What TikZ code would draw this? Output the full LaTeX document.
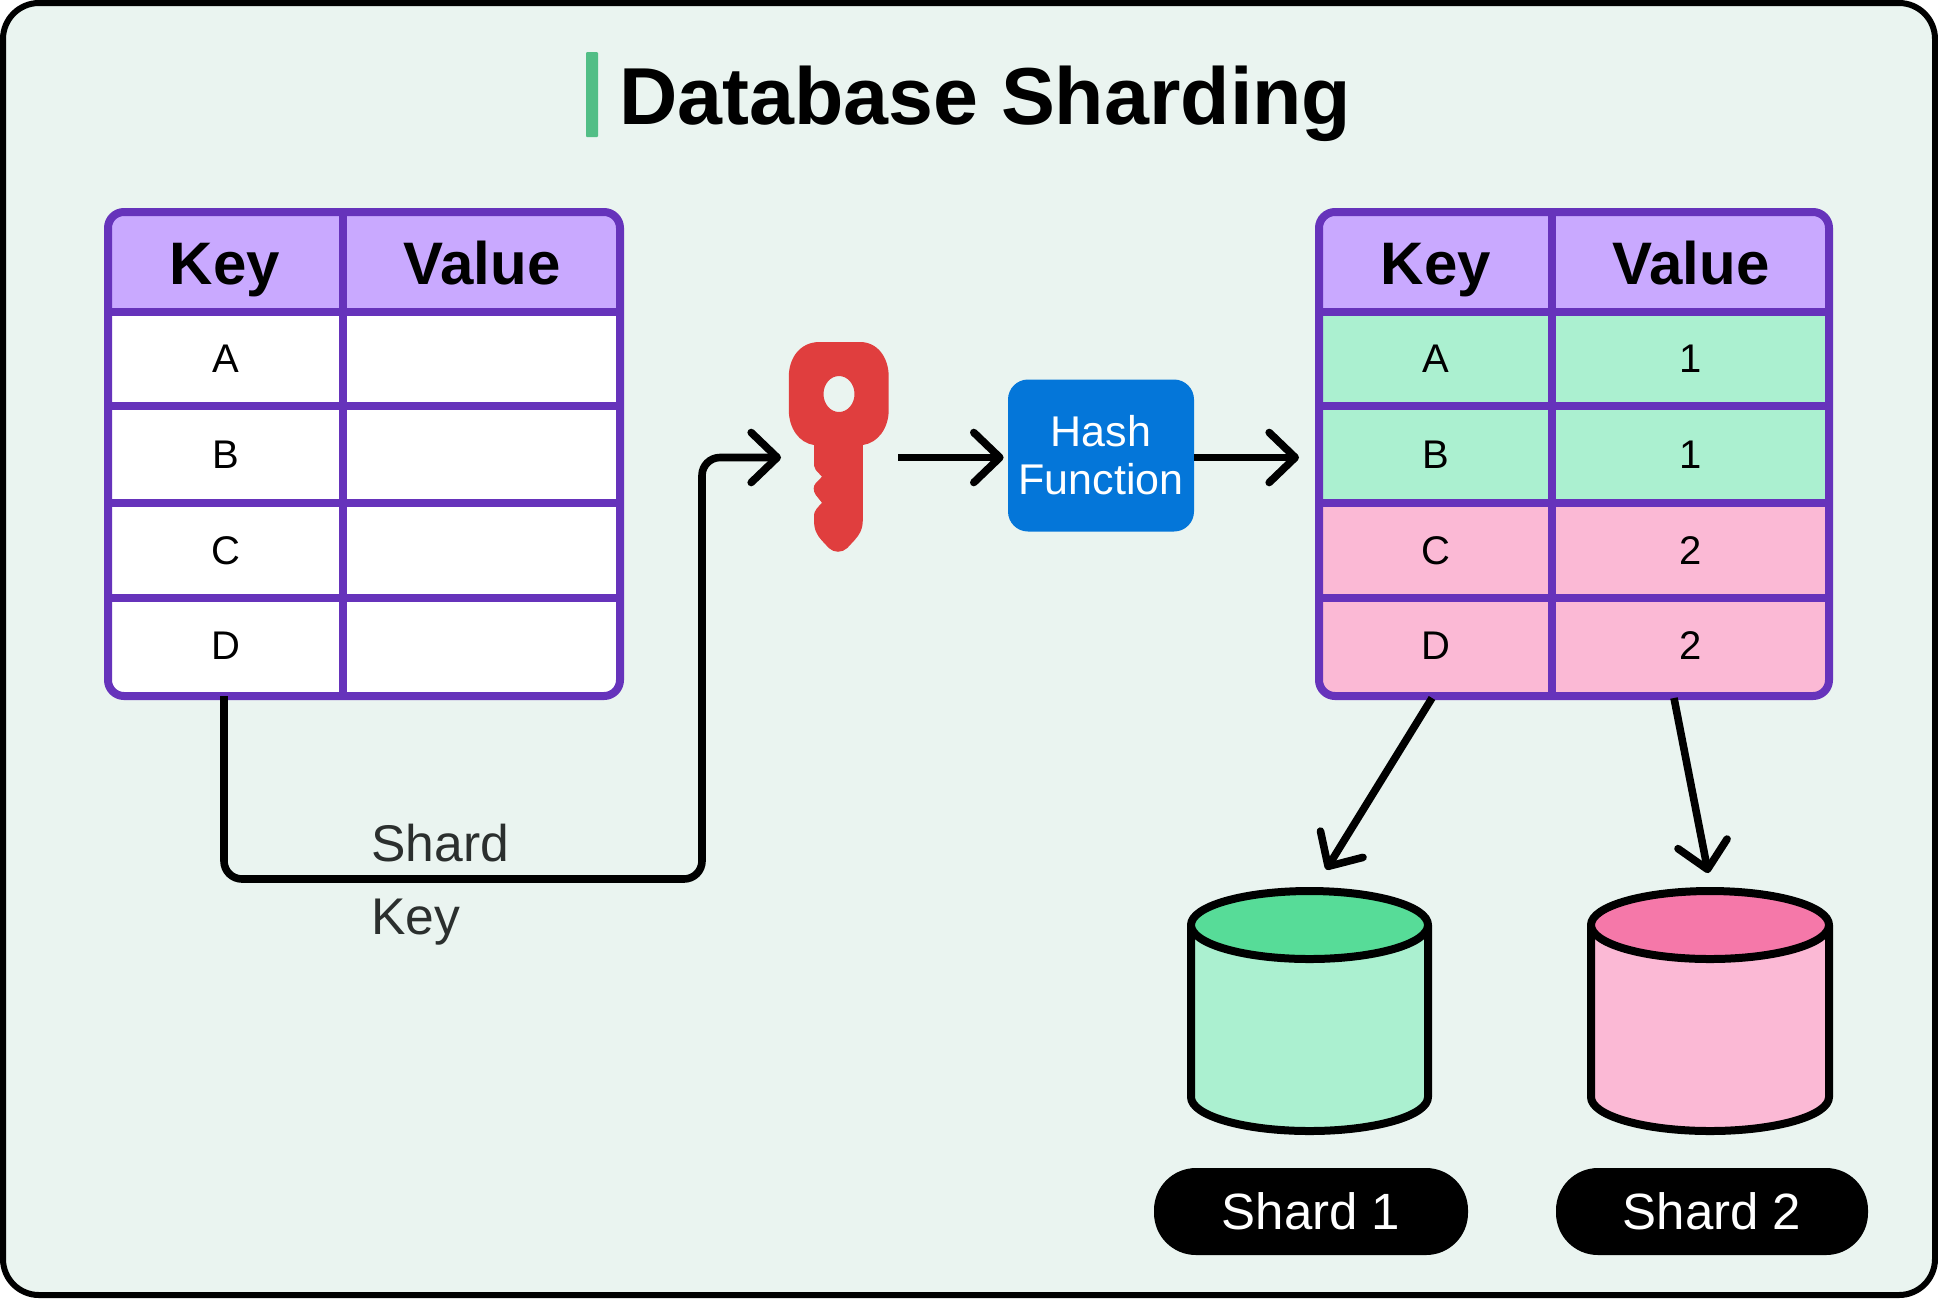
\documentclass[tikz,border=0pt]{standalone}
\usepackage{fontspec}
\setmainfont{Liberation Sans}
\usetikzlibrary{arrows.meta,calc}
\definecolor{bgc}{HTML}{EAF4F0}
\definecolor{purp}{HTML}{6633BB}
\definecolor{headc}{HTML}{C9A9FF}
\definecolor{greenl}{HTML}{ABF0D0}
\definecolor{greend}{HTML}{57DC98}
\definecolor{pinkl}{HTML}{FBB9D5}
\definecolor{pinkd}{HTML}{F578A9}
\definecolor{barc}{HTML}{52BE86}
\definecolor{keyred}{HTML}{E03E3E}
\definecolor{hashc}{HTML}{0476D9}
\definecolor{labelc}{HTML}{2B2F2E}
\tikzset{
  head/.style={anchor=base,font=\fontsize{30}{36}\selectfont\bfseries,text=black,inner sep=0pt},
  cell/.style={anchor=base,font=\fontsize{20}{24}\selectfont,text=black,inner sep=0pt},
  grid/.style={purp,line width=4pt},
  conn/.style={black,line width=3.8pt,shorten >=2pt,-{Straight Barb[round,length=13pt,width=25pt,line width=3.8pt]}},
  cyl/.style={black,line width=4pt,line join=round},
  pill/.style={fill=black,text=white,rounded corners=21pt,minimum width=157pt,minimum height=43.5pt,inner sep=0pt,
     font=\fontsize{25.5}{30}\selectfont},
}
\begin{document}
\begin{tikzpicture}[x=0.5pt,y=-0.5pt]
\useasboundingbox (0,0) rectangle (1938,1298);
% frame
\draw[black,line width=3pt,fill=bgc,rounded corners=18pt] (3,3) rectangle (1935,1295);
% title
\fill[barc,rounded corners=0.5pt] (586,52) rectangle (598,137);
\node[anchor=base west,inner sep=0pt,font=\fontsize{40.4}{48}\selectfont\bfseries] (title) at (619,124) {Database Sharding};
% left table
\begin{scope}
  \clip[rounded corners=8pt] (108,212) rectangle (620,696);
  \fill[white] (108,212) rectangle (620,696);
  \fill[headc] (108,212) rectangle (620,311.5);
\end{scope}
\draw[grid] (342.5,212) -- (342.5,696);
\foreach \yy in {311.5,405.5,503,598} \draw[grid] (108,\yy) -- (620,\yy);
\draw[grid,rounded corners=8pt] (108,212) rectangle (620,696);
\node[head] (lk) at (225,284) {Key};
\node[head] (lv) at (482,284) {Value};
\node[cell] (la) at (226,372) {A};
\node[cell] (lb) at (226,468) {B};
\node[cell] (lc) at (226,564) {C};
\node[cell] (ld) at (226,659) {D};
\coordinate (lbottom) at (224,696);
% right table
\begin{scope}
  \clip[rounded corners=8pt] (1319,212) rectangle (1829,696);
  \fill[headc] (1319,212) rectangle (1829,311.5);
  \fill[greenl] (1319,311.5) rectangle (1829,503);
  \fill[pinkl] (1319,503) rectangle (1829,696);
\end{scope}
\draw[grid] (1552,212) -- (1552,696);
\foreach \yy in {311.5,405.5,503,598} \draw[grid] (1319,\yy) -- (1829,\yy);
\draw[grid,rounded corners=8pt] (1319,212) rectangle (1829,696);
\node[head] (rk) at (1436,284) {Key};
\node[head] (rv) at (1691,284) {Value};
\node[cell] (ra) at (1436,372) {A};
\node[cell] (rb) at (1436,468) {B};
\node[cell] (rc) at (1436,564) {C};
\node[cell] (rd) at (1436,659) {D};
\node[cell] (r1) at (1691,372) {1};
\node[cell] (r2) at (1691,468) {1};
\node[cell] (r3) at (1691,564) {2};
\node[cell] (r4) at (1691,659) {2};
% key icon
\fill[keyred,even odd rule]
  (819.5,342) -- (860,342)
  .. controls (878,342) and (888.7,358) .. (888.7,376.7)
  -- (888.7,410)
  .. controls (888.7,428) and (878,443) .. (862.8,445)
  -- (862.8,520)
  .. controls (862.8,530) and (859,535) .. (854.7,540)
  -- (847.3,548)
  .. controls (842,553) and (834,553) .. (828.8,548)
  -- (821.4,540)
  .. controls (817,535) and (814,530) .. (814,520)
  -- (814,515)
  .. controls (814,511) and (818,507) .. (822,502.7)
  -- (815.8,495)
  .. controls (813,491) and (813,486) .. (815.8,483)
  -- (822,476.7)
  -- (815.8,470)
  .. controls (814,467) and (814,465) .. (814,463)
  -- (814,445)
  .. controls (799,443) and (788.8,428) .. (788.8,410)
  -- (788.8,376.7)
  .. controls (788.8,358) and (800,342) .. (819.5,342) -- cycle
  (839,394) ellipse [x radius=15.5,y radius=18];
\node[minimum width=56.5pt,minimum height=90pt,inner sep=0pt,outer sep=0pt] (keyicon) at (841.5,457.5) {};
% hash
\node[fill=hashc,text=white,rounded corners=10pt,minimum width=93pt,minimum height=76pt,inner sep=0pt,
  align=center,font=\fontsize{21.5}{24}\selectfont] (hash) at (1101,455.5) {Hash\\Function};
% connectors
\coordinate (hashout) at (1303,457.5);
\draw[conn,rounded corners=9pt] (lbottom) |- (702,879) |- (keyicon.west);
\draw[conn] (keyicon.east) -- (keyicon.east -| hash.west);
\draw[conn] (keyicon.east -| hash.east) -- (hashout);
\node[anchor=base west,inner sep=0pt,align=left,text=labelc,font=\fontsize{25.8}{36.5}\selectfont] (skey) at (371,861.5) {Shard};
\node[anchor=base west,inner sep=0pt,text=labelc,font=\fontsize{25.8}{36.5}\selectfont] (skey2) at (371,934.5) {Key};
% cylinders
\draw[cyl,fill=greenl] (1191,925) -- (1191,1097) arc[start angle=180,end angle=360,x radius=118.5,y radius=-34] -- (1428,925) -- cycle;
\draw[cyl,fill=greend] (1309.5,925) ellipse [x radius=118.5,y radius=34];
\draw[cyl,fill=pinkl] (1591,925) -- (1591,1097) arc[start angle=180,end angle=360,x radius=119,y radius=-34] -- (1829,925) -- cycle;
\draw[cyl,fill=pinkd] (1710,925) ellipse [x radius=119,y radius=34];
\coordinate (c1top) at (1324,873);
\coordinate (c2top) at (1709,877);
\coordinate (t1) at (1432,698);
\coordinate (t2) at (1674,698);
\draw[conn] (t1) -- (c1top);
\draw[conn] (t2) -- (c2top);
% pills
\node[pill] (s1) at (1311,1211.5) {Shard 1};
\node[pill,minimum width=156pt] (s2) at (1712,1211.5) {Shard 2};
\end{tikzpicture}
\end{document}
